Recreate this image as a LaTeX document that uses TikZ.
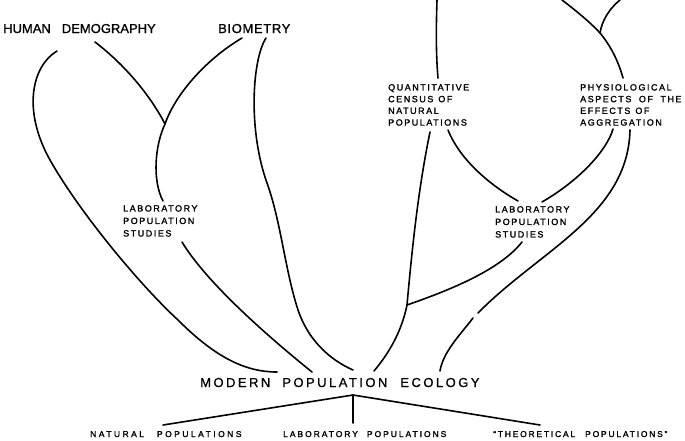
\documentclass[tikz,border=0pt]{standalone}
\usepackage{fontspec}
\setmainfont{Liberation Sans}
\newfontfamily\bigf[LetterSpace=0,FakeBold=1]{Liberation Sans}
\newfontfamily\midf[LetterSpace=19,FakeBold=0.8]{Liberation Sans}
\newfontfamily\smf[LetterSpace=17,FakeBold=1.6]{Liberation Sans}
\newfontfamily\btf[LetterSpace=23,FakeBold=1.4]{Liberation Sans}
\begin{document}
\begin{tikzpicture}[x=1pt,y=-1pt,
  link/.style={draw=black, line width=1.6pt, line cap=round},
  head/.style={font=\bigf\fontsize{13}{15}\selectfont, inner sep=0pt, anchor=base west},
  title/.style={font=\midf\fontsize{13}{15}\selectfont, inner sep=0pt, anchor=base west},
  topic/.style={font=\smf\fontsize{9}{12.5}\selectfont, inner sep=0pt, anchor=north west, align=left},
  topicq/.style={topic, font=\smf\fontsize{9}{11.7}\selectfont},
  branch/.style={font=\btf\fontsize{8.5}{10}\selectfont, inner sep=0pt, anchor=base west}]
\useasboundingbox (0,0) rectangle (685,440);

% labels
\node[head] (hd) at (3,33) {HUMAN\hspace{11pt}DEMOGRAPHY};
\node[head] (bio) at (218,33) {\addfontfeatures{LetterSpace=5}BIOMETRY};
\node[topic] (labL) at (123,205) {LABORATORY\\POPULATION\\STUDIES};
\node[topic] (labR) at (495,206) {LABORATORY\\POPULATION\\STUDIES};
\node[topicq] (quant) at (388,84) {QUANTITATIVE\\CENSUS\hspace{5pt}OF\\NATURAL\\POPULATIONS};
\node[topicq] (phys) at (580,84) {PHYSIOLOGICAL\\ASPECTS\hspace{7.5pt}OF\hspace{7.5pt}THE\\EFFECTS\hspace{5pt}OF\\AGGREGATION};
\node[title] (mpe) at (200,387) {MODERN\hspace{12pt}POPULATION\hspace{13pt}ECOLOGY};
\node[branch] (nat) at (90,437) {\addfontfeatures{LetterSpace=29}NATURAL\hspace{13pt}POPULATIONS};
\node[branch] (lab) at (283,437) {LABORATORY\hspace{9pt}POPULATIONS};
\node[branch] (theo) at (493,437) {\addfontfeatures{LetterSpace=21}“THEORETICAL\hspace{10pt}POPULATIONS”};

% connector end points
\coordinate (a0) at (57,51);
\coordinate (a1) at (50,160);
\coordinate (a2) at (178,320);
\coordinate (mA) at (277,372);
\coordinate (hdR) at (95,42);
\coordinate (bioL) at (242,38);
\coordinate (jL) at (165,124);
\coordinate (labLt) at (163,201);
\coordinate (labLb) at (182,242);
\coordinate (mB) at (312,372);
\coordinate (bioR) at (266,38);
\coordinate (c1) at (267,183);
\coordinate (c2) at (298,310);
\coordinate (mC) at (353,370);
\coordinate (qTop) at (437,0);
\coordinate (qT) at (438,78);
\coordinate (qBL) at (430,132);
\coordinate (jQ) at (407,305);
\coordinate (mD) at (374,371);
\coordinate (labRb) at (522,242);
\coordinate (qBR) at (448,130);
\coordinate (labRtL) at (518,201);
\coordinate (pBL) at (613,129);
\coordinate (labRtR) at (542,202);
\coordinate (pBR) at (630,130);
\coordinate (gapU) at (478,313);
\coordinate (gapL) at (473,318);
\coordinate (mE) at (440,371);
\coordinate (pTop) at (562,0);
\coordinate (jP) at (600,33);
\coordinate (pTopR) at (620,0);
\coordinate (pT) at (623,78);
\coordinate (mJ) at (353,395);
\coordinate (natE) at (163,425);
\coordinate (labE) at (353,423);
\coordinate (theoE) at (540,425);

% connectors
\draw[link] (a0) .. controls (32,66) and (22,110) .. (a1) .. controls (80,213) and (140,285) .. (a2) .. controls (215,357) and (245,372) .. (mA);
\draw[link] (hdR) .. controls (125,65) and (150,95) .. (jL);
\draw[link] (bioL) .. controls (205,60) and (175,95) .. (jL);
\draw[link] (jL) .. controls (155,145) and (152,180) .. (labLt);
\draw[link] (labLb) .. controls (205,280) and (260,330) .. (mB);
\draw[link] (bioR) .. controls (252,60) and (248,130) .. (c1) .. controls (281,222) and (285,270) .. (c2) .. controls (310,345) and (335,362) .. (mC);
\draw[link] (qTop) .. controls (436,30) and (436,55) .. (qT);
\draw[link] (qBL) .. controls (418,190) and (412,250) .. (jQ) .. controls (402,330) and (390,352) .. (mD);
\draw[link] (jQ) .. controls (450,290) and (500,270) .. (labRb);
\draw[link] (qBR) .. controls (460,160) and (490,185) .. (labRtL);
\draw[link] (pBL) .. controls (607,150) and (580,180) .. (labRtR);
\draw[link] (pBR) .. controls (628,215) and (540,250) .. (gapU);
\draw[link] (gapL) .. controls (460,335) and (443,352) .. (mE);
\draw[link] (pTop) .. controls (575,10) and (590,22) .. (jP) .. controls (610,45) and (618,60) .. (pT);
\draw[link] (jP) .. controls (602,20) and (610,8) .. (pTopR);
\draw[link] (mJ) -- (natE);
\draw[link] (mJ) -- (labE);
\draw[link] (mJ) -- (theoE);
\end{tikzpicture}
\end{document}
